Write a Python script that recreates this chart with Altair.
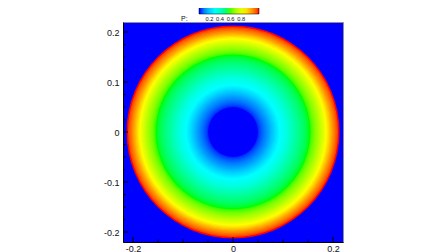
import altair as alt
import pandas as pd

# radial profile of P (outer radius of each disk, value)
radius = [0.2130, 0.2100, 0.2075, 0.2050, 0.2025, 0.2000, 0.1975, 0.1950, 0.1925, 0.1900,
          0.1875, 0.1850, 0.1825, 0.1800, 0.1775, 0.1750, 0.1725, 0.1700, 0.1675, 0.1650,
          0.1625, 0.1600, 0.1575, 0.1550, 0.1525, 0.1500, 0.1475, 0.1450, 0.1425, 0.1400,
          0.1375, 0.1350, 0.1325, 0.1300, 0.1275, 0.1250, 0.1225, 0.1200, 0.1175, 0.1150,
          0.1125, 0.1100, 0.1075, 0.1050, 0.1025, 0.1000, 0.0975, 0.0950, 0.0925, 0.0900,
          0.0875, 0.0850, 0.0825, 0.0800, 0.0775, 0.0750, 0.0725, 0.0700, 0.0675, 0.0650,
          0.0625, 0.0600, 0.0575, 0.0550, 0.0525, 0.0500]
pressure = [1.140, 1.108, 1.082, 1.056, 1.029, 1.003, 0.972, 0.942, 0.911, 0.880,
            0.850, 0.825, 0.800, 0.776, 0.751, 0.726, 0.703, 0.684, 0.665, 0.646,
            0.627, 0.608, 0.589, 0.570, 0.560, 0.548, 0.538, 0.528, 0.518, 0.506,
            0.496, 0.486, 0.475, 0.464, 0.454, 0.443, 0.432, 0.422, 0.408, 0.394,
            0.381, 0.367, 0.353, 0.340, 0.326, 0.312, 0.299, 0.285, 0.268, 0.251,
            0.235, 0.218, 0.201, 0.184, 0.168, 0.150, 0.133, 0.119, 0.104, 0.089,
            0.074, 0.059, 0.044, 0.030, 0.015, 0.000]

x_major = [-0.2, 0.0, 0.2]
x_minor = [-0.15, -0.1, -0.05, 0.05, 0.1, 0.15]
y_major = [-0.2, -0.1, 0.0, 0.1, 0.2]
y_minor = [-0.175, -0.15, -0.125, -0.075, -0.05, -0.025,
           0.025, 0.05, 0.075, 0.125, 0.15, 0.175]
legend_ticks = [0.2, 0.4, 0.6, 0.8]
color_stops = [0.0, 0.285, 0.57, 0.855, 1.14]
color_range = ["#0000ff", "#00ffff", "#00ff00", "#ffff00", "#ff0000"]

W = H = 220
FONT = "Liberation Sans"
xs = alt.Scale(domain=[-0.22, 0.22], nice=False, zero=False)
ys = alt.Scale(domain=[-0.22, 0.22], nice=False, zero=False)

x_axis = alt.Axis(values=x_major, ticks=False, grid=False, title=None,
                  labelExpr="toString(datum.value)", labelFont=FONT, labelFontSize=9,
                  labelColor="#111", labelPadding=2, domainColor="#000", domainWidth=1)
y_axis = alt.Axis(values=y_major, ticks=False, grid=False, title=None,
                  labelExpr="toString(datum.value)", labelFont=FONT, labelFontSize=9,
                  labelColor="#111", labelPadding=4, domainColor="#000", domainWidth=1)

disks = alt.Chart(pd.DataFrame({"r": radius, "P": pressure})).mark_arc(
    theta=6.2832
).encode(
    x=alt.XDatum(0, type="quantitative", scale=xs, axis=x_axis),
    y=alt.YDatum(0, type="quantitative", scale=ys, axis=y_axis),
    radius=alt.Radius("r:Q", stack=None,
                      scale=alt.Scale(type="linear", domain=[0, 0.22], range=[0, 110])),
    color=alt.Color(
        "P:Q",
        scale=alt.Scale(domain=color_stops, range=color_range),
        legend=alt.Legend(
            orient="none", legendX=58, legendY=-19, direction="horizontal",
            gradientLength=60, gradientThickness=11, values=legend_ticks,
            format=".1f", title=["", "P:"], titleOrient="left",
            titleBaseline="middle", titleLineHeight=21,
            titleFont=FONT, titleFontSize=7,
            titleFontWeight="normal", titleColor="#111", titlePadding=11,
            labelFont=FONT, labelFontSize=5.7, labelColor="#111", labelOffset=2,
            labelOverlap=False, gradientStrokeColor="#000", gradientStrokeWidth=0.5,
        ),
    ),
)

xmaj = alt.Chart(pd.DataFrame({"v": x_major})).mark_rule(color="#000").encode(
    x=alt.X("v:Q", scale=xs, axis=x_axis), y=alt.value(H), y2=alt.value(H - 5))
xmin = alt.Chart(pd.DataFrame({"v": x_minor})).mark_rule(color="#000").encode(
    x=alt.X("v:Q", scale=xs, axis=x_axis), y=alt.value(H), y2=alt.value(H - 2.5))
ymaj = alt.Chart(pd.DataFrame({"v": y_major})).mark_rule(color="#000").encode(
    y=alt.Y("v:Q", scale=ys, axis=y_axis), x=alt.value(0), x2=alt.value(5))
ymin = alt.Chart(pd.DataFrame({"v": y_minor})).mark_rule(color="#000").encode(
    y=alt.Y("v:Q", scale=ys, axis=y_axis), x=alt.value(0), x2=alt.value(2.5))

chart = alt.layer(disks, xmaj, xmin, ymaj, ymin).properties(
    width=W, height=H,
    autosize=alt.AutoSizeParams(type="none"),
    padding={"left": 115, "top": 14, "right": 10, "bottom": 10},
).configure_view(fill="#0000ff", stroke="#909090", strokeWidth=1)

chart.save("out.html", embed_options={"renderer": "svg", "actions": False})
